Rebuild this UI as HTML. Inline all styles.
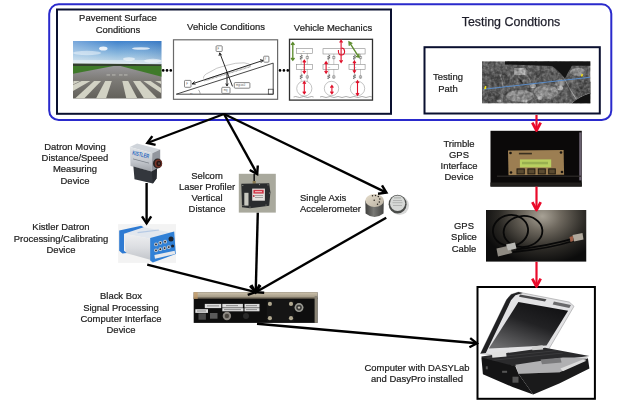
<!DOCTYPE html>
<html><head><meta charset="utf-8">
<style>
html,body{margin:0;padding:0;background:#fff;}
body{width:624px;height:412px;position:relative;overflow:hidden;}
.t{position:absolute;font-family:"Liberation Sans",sans-serif;font-size:9.8px;line-height:11.3px;text-align:center;white-space:nowrap;color:#1c1c1c;width:140px;-webkit-text-stroke:0.22px #222;transform:scaleX(0.965);transform-origin:50% 0;}
svg{position:absolute;left:0;top:0;}
</style></head><body>
<svg width="624" height="412" viewBox="0 0 624 412">
<defs>
  <linearGradient id="sky" x1="0" y1="0" x2="0" y2="1">
    <stop offset="0" stop-color="#3f82cc"/>
    <stop offset="0.55" stop-color="#8cb9de"/>
    <stop offset="1" stop-color="#d6e4ec"/>
  </linearGradient>
  <linearGradient id="runway" x1="0" y1="0" x2="0" y2="1">
    <stop offset="0" stop-color="#98979a"/>
    <stop offset="0.4" stop-color="#7e7c78"/>
    <stop offset="1" stop-color="#62605a"/>
  </linearGradient>
  <linearGradient id="skyH" x1="0" y1="0" x2="1" y2="0">
    <stop offset="0" stop-color="#ffffff" stop-opacity="0.3"/>
    <stop offset="0.5" stop-color="#ffffff" stop-opacity="0"/>
    <stop offset="1" stop-color="#003080" stop-opacity="0.12"/>
  </linearGradient>
  <clipPath id="cpPav"><rect x="73" y="41" width="88.7" height="57.5"/></clipPath>
  <clipPath id="cpMap"><rect x="482" y="61.3" width="108.5" height="42.2"/></clipPath>
  <clipPath id="cpCab"><rect x="486" y="210" width="100.5" height="51.8"/></clipPath>
  <radialGradient id="cabBg" cx="0.56" cy="0.12" r="0.62" gradientTransform="translate(0.56 0.12) scale(1 1.5) translate(-0.56 -0.12)">
    <stop offset="0" stop-color="#a8a296"/>
    <stop offset="0.3" stop-color="#6e685e"/>
    <stop offset="0.7" stop-color="#2a2824"/>
    <stop offset="1" stop-color="#0c0c0c"/>
  </radialGradient>
  <linearGradient id="screen" x1="0.8" y1="0" x2="0.2" y2="1">
    <stop offset="0" stop-color="#101012"/>
    <stop offset="0.45" stop-color="#222224"/>
    <stop offset="1" stop-color="#6a6a6c"/>
  </linearGradient>
  <linearGradient id="alu" x1="0" y1="0" x2="0" y2="1">
    <stop offset="0" stop-color="#e8eaec"/>
    <stop offset="1" stop-color="#c4c8cc"/>
  </linearGradient>
  <linearGradient id="bbTop" x1="0" y1="0" x2="0" y2="1">
    <stop offset="0" stop-color="#cfc4ae"/>
    <stop offset="0.65" stop-color="#a89e8a"/>
    <stop offset="1" stop-color="#3a342c"/>
  </linearGradient>
  <linearGradient id="accBody" x1="0" y1="0" x2="1" y2="0">
    <stop offset="0" stop-color="#3e3e3c"/>
    <stop offset="0.45" stop-color="#7a7a76"/>
    <stop offset="1" stop-color="#444442"/>
  </linearGradient>
  <linearGradient id="accTop" x1="0" y1="0" x2="1" y2="1">
    <stop offset="0" stop-color="#e6ddcc"/>
    <stop offset="1" stop-color="#b8b0a0"/>
  </linearGradient>
  <linearGradient id="alu2" x1="0" y1="0" x2="0" y2="1">
    <stop offset="0" stop-color="#e2e5e8"/>
    <stop offset="0.6" stop-color="#c2c6cc"/>
    <stop offset="1" stop-color="#9ea2a8"/>
  </linearGradient>
  <linearGradient id="alu3" x1="0" y1="0" x2="0" y2="1">
    <stop offset="0" stop-color="#eeeff1"/>
    <stop offset="0.5" stop-color="#dcdee2"/>
    <stop offset="1" stop-color="#c2c5ca"/>
  </linearGradient>
  <filter id="noise" x="0" y="0" width="100%" height="100%">
    <feTurbulence type="fractalNoise" baseFrequency="0.35" numOctaves="2" seed="3"/>
    <feColorMatrix type="matrix" values="0 0 0 0 1  0 0 0 0 1  0 0 0 0 1  1.6 0 0 0 -0.55"/>
  </filter>
  <filter id="noiseD" x="0" y="0" width="100%" height="100%">
    <feTurbulence type="fractalNoise" baseFrequency="0.25" numOctaves="2" seed="9"/>
    <feColorMatrix type="matrix" values="0 0 0 0 0  0 0 0 0 0  0 0 0 0 0  1.6 0 0 0 -0.6"/>
  </filter>
</defs>

<!-- ===== frames ===== -->
<rect x="49.2" y="4.3" width="562.1" height="115.7" rx="9.5" fill="none" stroke="#2a2acc" stroke-width="2"/>
<rect x="57" y="9.5" width="334" height="104.3" fill="none" stroke="#0a1030" stroke-width="2"/>
<rect x="424.5" y="47.2" width="175.3" height="66.3" fill="none" stroke="#0a1030" stroke-width="2"/>
<rect x="477.5" y="287" width="117.4" height="111.8" fill="none" stroke="#000" stroke-width="2"/>

<!-- ===== pavement photo ===== -->
<g clip-path="url(#cpPav)">
  <rect x="73" y="41" width="88.7" height="24" fill="url(#sky)"/>
  <rect x="73" y="41" width="88.7" height="24" fill="url(#skyH)"/>
  <g fill="#fff">
    <ellipse cx="103.3" cy="48.5" rx="4.2" ry="2" opacity="0.85"/>
    <ellipse cx="141" cy="48.5" rx="9" ry="1.3" opacity="0.75"/>
    <ellipse cx="87" cy="53" rx="14" ry="2.2" opacity="0.45"/>
    <ellipse cx="129" cy="59" rx="6" ry="1.8" opacity="0.6"/>
    <ellipse cx="153" cy="60.8" rx="9" ry="2" opacity="0.55"/>
    <rect x="73" y="60" width="88.7" height="4" opacity="0.35"/>
  </g>
  <polygon points="73,63.5 161.7,64.3 161.7,66.3 73,66.3" fill="#34402e"/>
  <rect x="73" y="66" width="88.7" height="33" fill="url(#runway)"/>
  <polygon points="73,66 113.5,66 73,73.8" fill="#3f7a2a"/>
  <polygon points="120.5,66 161.7,66 161.7,76.7" fill="#3f7a2a"/>
  <g fill="#d2d2c4">
    <polygon points="73.5,80.9 80.1,80.9 73,84.5"/>
    <polygon points="81.6,80.9 90.4,80.9 73,91 73,85"/>
    <polygon points="94.1,80.9 101.1,80.9 84.2,98.6 75,98.6"/>
    <polygon points="105.2,80.9 111.8,80.9 106,98.6 96,98.6"/>
    <polygon points="122.3,80.9 128.2,80.9 137.4,98.6 126.3,98.6"/>
    <polygon points="133,80.9 140.3,80.9 157.3,98.6 144,98.6"/>
    <polygon points="143.3,80.9 150.6,80.9 161,88 161,93"/>
    <polygon points="155,80.9 160.2,80.9 161,81.5 161,84"/>
  </g>
  <g fill="#c8c8c0" opacity="0.6">
    <rect x="106.5" y="74.3" width="3.5" height="1.3"/>
    <rect x="112" y="74.3" width="3.5" height="1.3"/>
    <rect x="119" y="74.3" width="3.5" height="1.3"/>
    <rect x="124" y="74.3" width="3.5" height="1.3"/>
  </g>
</g>
<g fill="#000"><circle cx="163.2" cy="70.4" r="1.3"/><circle cx="167" cy="70.4" r="1.3"/><circle cx="170.8" cy="70.4" r="1.3"/></g>
<g fill="#000"><circle cx="280" cy="70.4" r="1.3"/><circle cx="283.9" cy="70.4" r="1.3"/><circle cx="287.8" cy="70.4" r="1.3"/></g>

<!-- ===== vehicle conditions diagram ===== -->
<rect x="173.5" y="39.8" width="104.1" height="59.5" fill="#fff" stroke="#6a6a6a" stroke-width="1.2"/>
<g stroke="#333" stroke-width="0.9" fill="none">
  <polygon points="176.3,94.2 273.2,63.1 273.2,94.2"/>
  <rect x="268.3" y="89.2" width="4.9" height="5" stroke-width="0.7"/>
  <path d="M198.5,89.8 Q200.3,92 200.2,94.2" stroke="#777" stroke-width="0.6"/>
</g>
<g stroke="#a0a0a0" stroke-width="0.6" fill="none">
  <path d="M203.5,78.5 Q203,75 209,72.5 Q216,67.5 226,65.5 Q236,62.5 244,62.8 Q250,63.5 251,66"/>
  <path d="M204,81 L251,66.5 M205,79.5 L250,65.3"/>
  <path d="M208,80.5 l2,-2.2 M212,79.3 l2,-2.2 M216,78 l2,-2.2 M220,76.8 l2,-2.2 M224,75.5 l2,-2.2 M228,74.3 l2,-2.2 M232,73 l2,-2.2 M236,71.8 l2,-2.2 M240,70.5 l2,-2.2 M244,69.3 l2,-2.2 M248,68 l2,-2.2"/>
</g>
<g stroke="#111" stroke-width="0.9" fill="none">
  <line x1="192.4" y1="83.8" x2="262.8" y2="60.5"/>
  <path d="M194.8,81.5 L192,83.9 L195.6,84.2 M260,59.7 L263.2,60.4 L261,62.7"/>
  <line x1="220" y1="53.5" x2="232.5" y2="86.4"/>
  <path d="M219,56 L219.7,52.8 L221.6,55.2"/>
  <line x1="227" y1="72.6" x2="227" y2="85.6"/>
  <path d="M225.8,83.5 L227,86 L228.2,83.5"/>
</g>
<g fill="#fff" stroke="#555" stroke-width="0.7">
  <rect x="216.1" y="45.8" width="6.1" height="5.7" rx="0.8"/>
  <rect x="263.7" y="56.2" width="5.2" height="6" rx="0.8"/>
  <rect x="184.5" y="80.4" width="6.5" height="6.9" rx="0.8"/>
  <rect x="221.8" y="87.3" width="8.2" height="6.1" rx="0.8"/>
  <rect x="234.3" y="82.6" width="15.6" height="5.6" rx="0.8"/>
</g>
<g fill="#555" font-family="Liberation Sans" font-size="2.6">
  <text x="217.6" y="49.8">F</text><text x="265.2" y="60">f</text><text x="186.3" y="84.8">F</text>
  <text x="223.8" y="91.3">mg</text><text x="236" y="86.3">mgcos0</text><text x="190" y="93.6" font-size="2.2">20°</text>
</g>

<!-- ===== vehicle mechanics diagram ===== -->
<rect x="289.5" y="39.3" width="83" height="60.8" fill="#fff" stroke="#303030" stroke-width="1.3"/>
<g fill="#fff" stroke="#8a8a8a" stroke-width="0.6">
  <rect x="296.3" y="48.4" width="16.4" height="4.9"/>
  <rect x="323" y="48.7" width="42.1" height="5.3"/>
  <rect x="296.3" y="64.3" width="16.4" height="5"/>
  <rect x="323" y="64.3" width="15.3" height="5"/>
  <rect x="349" y="64.3" width="16.1" height="5"/>
</g>
<g fill="none" stroke="#9a9a9a" stroke-width="0.6">
  <circle cx="304.3" cy="88.5" r="7.6"/>
  <circle cx="331.5" cy="88.5" r="7.2"/>
  <circle cx="357.5" cy="88.5" r="7.2"/>
</g>
<g stroke="#8a8a8a" stroke-width="0.45" fill="none">
  <path d="M301.2,53.3 v2 M307.3,53.3 v2 M301.2,59.3 v5 M307.3,59.3 v5 M301.2,69.3 v5.4 M307.3,69.3 v5.4 M301.2,78.7 v2 M307.3,78.7 v3"/>
  <path d="M328.8,54 v1.3 M333.8,54 v1.3 M328.8,59.3 v5 M333.8,59.3 v5 M328.8,69.3 v5.4 M333.8,69.3 v5.4"/>
  <path d="M354.4,54 v1.3 M360.5,54 v1.3 M354.4,59.3 v5 M360.5,59.3 v5 M354.4,69.3 v5.4 M360.5,69.3 v5.4"/>
</g>
<g stroke="#4a4a4a" stroke-width="0.7" fill="none">
  <path d="M301.2,55.3 L302.5,55.8 L299.9,56.8 L302.5,57.8 L299.9,58.8 L301.2,59.3 M301.2,74.7 L302.5,75.2 L299.9,76.2 L302.5,77.2 L299.9,78.2 L301.2,78.7 M328.8,55.3 L330.1,55.8 L327.5,56.8 L330.1,57.8 L327.5,58.8 L328.8,59.3 M328.8,74.7 L330.1,75.2 L327.5,76.2 L330.1,77.2 L327.5,78.2 L328.8,78.7 M354.4,55.3 L355.7,55.8 L353.1,56.8 L355.7,57.8 L353.1,58.8 L354.4,59.3 M354.4,74.7 L355.7,75.2 L353.1,76.2 L355.7,77.2 L353.1,78.2 L354.4,78.7 "/>
  <path d="M307.3,55.3 v1.8 M306.0,56.5 h2.6 M306.2,56.5 v2.2 h2.2 v-2.2 M307.3,57.7 v1.6 M307.3,74.7 v1.8 M306.0,75.9 h2.6 M306.2,75.9 v2.2 h2.2 v-2.2 M307.3,77.1 v1.6 M333.8,55.3 v1.8 M332.5,56.5 h2.6 M332.7,56.5 v2.2 h2.2 v-2.2 M333.8,57.7 v1.6 M333.8,74.7 v1.8 M332.5,75.9 h2.6 M332.7,75.9 v2.2 h2.2 v-2.2 M333.8,77.1 v1.6 M360.5,55.3 v1.8 M359.2,56.5 h2.6 M359.4,56.5 v2.2 h2.2 v-2.2 M360.5,57.7 v1.6 M360.5,74.7 v1.8 M359.2,75.9 h2.6 M359.4,75.9 v2.2 h2.2 v-2.2 M360.5,77.1 v1.6 " stroke="#7a7a7a" stroke-width="0.6"/>
</g>
<path d="M293.6,97 q2,-1 4,0 t4,0 t4,0 t4,0 t4,0 M320,97 q2,-1 4,0 t4,0 t4,0 t4,0 t4,0 t4,0 t4,0 t4,0 t4,0 t4,0 t4,0 t4,0 t4,0" stroke="#777" stroke-width="0.6" fill="none"/>
<g stroke="#5a8a2a" stroke-width="1.3" fill="none">
  <path d="M292.8,43.1 V59.7 M291.1,44.800000000000004 L292.8,42.6 L294.5,44.800000000000004 M291.1,58.0 L292.8,60.2 L294.5,58.0"/>
  <line x1="349.6" y1="42.6" x2="358.4" y2="56.3"/>
  <path d="M349.3,45.8 L349,41.8 L352.3,43.6 M355.8,56.3 L359,57.1 L358.8,53.8"/>
</g>
<g stroke="#e0102a" stroke-width="1.1" fill="none">
  <path d="M304.3,60.7 V72.7 M302.8,62.400000000000006 L304.3,60.2 L305.8,62.400000000000006 M302.8,71.0 L304.3,73.2 L305.8,71.0 M304.3,82.1 V93.3 M302.8,83.8 L304.3,81.6 L305.8,83.8 M302.8,91.6 L304.3,93.8 L305.8,91.6 M326.1,62.2 V72.7 M324.6,63.900000000000006 L326.1,61.7 L327.6,63.900000000000006 M324.6,71.0 L326.1,73.2 L327.6,71.0 M331.9,85.9 V93.3 M330.4,87.60000000000001 L331.9,85.4 L333.4,87.60000000000001 M330.4,91.6 L331.9,93.8 L333.4,91.6 M354.4,61.5 V71.9 M352.9,63.2 L354.4,61 L355.9,63.2 M352.9,70.2 L354.4,72.4 L355.9,70.2 M357.5,81.3 V94.8 M356.0,83.0 L357.5,80.8 L359.0,83.0 M356.0,93.1 L357.5,95.3 L359.0,93.1 M341.1,40.8 V62.0 M339.6,42.5 L341.1,40.3 L342.6,42.5 M339.6,60.3 L341.1,62.5 L342.6,60.3"/>
  <path d="M338.4,50 Q338,55 341.4,55 Q344.6,55 344.6,51.5 Q344.4,48.2 341.6,48"/>
</g>
<g fill="#777" font-family="Liberation Sans" font-size="2.4"><text x="302.5" y="51.8">m</text><text x="303" y="67.8">m</text><text x="328" y="67.8">m</text><text x="354" y="67.8">m</text></g>

<!-- ===== map ===== -->
<g clip-path="url(#cpMap)">
  <rect x="482" y="61.3" width="108.5" height="42.2" fill="#5a5a5a"/>
  <g fill="#4c4c4c">
    <ellipse cx="498" cy="79" rx="12" ry="8"/>
    <ellipse cx="585" cy="88" rx="9" ry="8"/>
    <ellipse cx="492" cy="97" rx="9" ry="6"/>
    <ellipse cx="540" cy="74" rx="6" ry="4"/>
  </g>
  <g fill="#8e8e8e">
    <ellipse cx="520" cy="96" rx="14" ry="6"/>
    <ellipse cx="546" cy="92" rx="12" ry="7"/>
    <ellipse cx="560" cy="83" rx="5" ry="4"/>
    <ellipse cx="578" cy="72" rx="8" ry="4"/>
  </g>
  <g fill="#b4b4b4">
    <rect x="514.2" y="68" width="11.4" height="7" />
    <ellipse cx="560" cy="88" rx="3" ry="2.5"/>
    <ellipse cx="499" cy="101" rx="2.5" ry="1.6"/>
    <ellipse cx="525" cy="101" rx="2.5" ry="1.6"/>
    <ellipse cx="540" cy="98" rx="2.5" ry="2"/>
    <ellipse cx="533" cy="86" rx="3" ry="2"/>
  </g>
  <path d="M517,76 Q520,80 523,84" stroke="#303030" stroke-width="1.6" fill="none"/>
  <path d="M564.8,79.5 Q570,90 576.2,99 M571.6,103.5 Q580,96 590.5,93.2" stroke="#b8b8b8" stroke-width="0.7" fill="none"/>
  <path d="M500,75 Q505,85 502,103 M524,67 Q526,75 531,82" stroke="#909090" stroke-width="0.8" fill="none"/>
  <rect x="482" y="61.3" width="108.5" height="42.2" filter="url(#noise)" opacity="0.35"/>
  <rect x="482" y="61.3" width="108.5" height="42.2" filter="url(#noiseD)" opacity="0.5"/>
  <path d="M505,61.3 L590.5,61.3 L590.5,65.8 L572,65.8 Q568,72 565,78.4 Q558,70 552,66 L505,64.5 Z" fill="#141414"/>
  <path d="M571.6,103.5 Q580,96 590.5,93.2 L590.5,103.5 Z" fill="#121212"/>
  <line x1="483.4" y1="89.3" x2="590" y2="77.2" stroke="#5a8cc8" stroke-width="1.15"/>
  <polygon points="484,89.3 485.2,85.8 486.4,86.2 486.2,89" fill="#f2e21a"/>
  <polygon points="580.7,76.6 581.6,73.8 583,74.3 582.6,76.4" fill="#f2e21a"/>
</g>

<!-- ===== datron sensor ===== -->
<polygon points="129.9,147.1 137.1,143.5 160.2,149.5 152.3,153.2" fill="#cfd4da"/>
<polygon points="129.9,147.1 152.3,153.2 151.7,171.4 130.5,165.9" fill="url(#alu2)"/>
<polygon points="152.3,153.2 160.2,149.5 160.2,167 151.7,171.4" fill="#92969e"/>
<polygon points="133.4,166.6 151.7,171.4 157,168.5 156.5,178.5 152.9,183.5 134.5,179.3" fill="#33373d"/>
<polygon points="151.7,171.4 157,168.5 156.5,178.5 152.9,183.5" fill="#282b30"/>
<text x="0" y="0" font-family="Liberation Sans" font-size="6" font-weight="bold" fill="#2a68c0" transform="translate(132 154.6) rotate(13) scale(0.66 1)">KISTLER</text>
<polygon points="133,158.5 149,162.8 149,163.5 133,159.2" fill="#7a8088"/>
<ellipse cx="157.6" cy="163.5" rx="4.6" ry="5" fill="#2a2626"/>
<ellipse cx="158.4" cy="163.5" rx="3.6" ry="4" fill="#7a3428"/>
<ellipse cx="158.8" cy="163.5" rx="2.4" ry="2.8" fill="#2a1614"/>
<ellipse cx="159" cy="163.5" rx="1" ry="1.2" fill="#5a4440"/>

<!-- ===== selcom ===== -->
<rect x="238.8" y="173.8" width="37" height="38.8" fill="#a9a99d"/>
<rect x="253.4" y="174" width="1.6" height="8" fill="#1a1a1a"/>
<rect x="252.6" y="181" width="3.2" height="2.8" fill="#8a7a50"/>
<polygon points="241.3,183.8 269.2,183.2 270.4,192.2 269.2,205.8 250,208.3 242,207.2" fill="#2a2c2e"/>
<g fill="#9a9a90"><circle cx="242.8" cy="185.5" r="0.6"/><circle cx="259.5" cy="184.6" r="0.6"/><circle cx="268" cy="184.8" r="0.6"/><circle cx="269.5" cy="193" r="0.6"/><circle cx="266" cy="205" r="0.6"/><circle cx="250" cy="207" r="0.6"/><circle cx="243" cy="205.5" r="0.6"/></g>
<rect x="252.2" y="188.6" width="12.7" height="12.1" fill="#e6e2de"/>
<rect x="253.4" y="189.8" width="10.3" height="3.8" fill="#d03848"/>
<rect x="255" y="191.2" width="7" height="1" fill="#f0d0d4"/>
<g fill="#777"><rect x="255" y="195" width="8" height="0.6"/><rect x="255" y="197" width="8" height="0.6"/><circle cx="253.8" cy="196" r="0.9" fill="#c03040"/></g>
<rect x="244.3" y="192.8" width="4.2" height="12.8" fill="#c8c8c0"/>

<!-- ===== accelerometer ===== -->
<path d="M365.3,200.5 L365.6,213.5 Q374.5,220.5 383.5,213.5 L383.8,200.5 Z" fill="url(#accBody)"/>
<ellipse cx="374.6" cy="200.5" rx="9.3" ry="6.4" fill="url(#accTop)"/>
<g fill="#2a2520"><circle cx="372.5" cy="195.8" r="0.75"/><circle cx="375.5" cy="195.6" r="0.75"/><circle cx="378.3" cy="196.6" r="0.75"/><circle cx="379.8" cy="199" r="0.75"/><circle cx="379.3" cy="202" r="0.75"/><circle cx="377.5" cy="204.2" r="0.75"/><circle cx="374.2" cy="200.3" r="0.75"/></g>
<ellipse cx="399.5" cy="205.5" rx="9.5" ry="9.6" fill="#bcbebc" opacity="0.6"/>
<ellipse cx="397.6" cy="204.2" rx="9" ry="9.4" fill="#4a4c4a"/>
<ellipse cx="397.6" cy="203.2" rx="7.6" ry="7.8" fill="#d6d8d6"/>
<g fill="#9a9c9a"><rect x="393" y="200" width="9" height="0.6"/><rect x="392.5" y="202.5" width="10" height="0.6"/><rect x="393" y="205" width="9" height="0.6"/><rect x="394" y="197.5" width="7" height="0.8"/></g>

<!-- ===== kistler processor ===== -->
<rect x="118.1" y="224.1" width="57.9" height="38.8" fill="#f3f3f3"/>
<polygon points="124.0,233.7 143.7,227.3 172.6,232.7 152.3,239.1" fill="#e2e7ee"/>
<polygon points="137.3,232.1 158.7,229.5 159.2,230.5 137.9,233.2" fill="#9ab8e0" opacity="0.6"/>
<polygon points="124.0,233.7 152.3,239.1 152.8,260.4 125.6,252.9" fill="url(#alu3)"/>
<polygon points="119.2,230.5 141.1,225.7 143.7,227.3 124.0,233.7 124.0,250.8 126.7,252.9 122.4,253.5 119.2,250.8" fill="#2e7ad2"/>
<polygon points="150.2,238.0 174.2,231.6 175.8,254.0 152.8,262.6 150.2,260.4" fill="#3080d6"/>
<g fill="#c4c8d0"><circle cx="156.0" cy="244.4" r="1.9"/><circle cx="160.3" cy="242.8" r="1.9"/><circle cx="165.1" cy="241.7" r="1.9"/><circle cx="156.0" cy="250.3" r="1.9"/><circle cx="160.3" cy="249.2" r="1.9"/><circle cx="164.6" cy="248.1" r="1.9"/><circle cx="168.8" cy="247.1" r="1.9"/></g>
<g fill="#1e2430"><circle cx="156.0" cy="244.4" r="0.9"/><circle cx="160.3" cy="242.8" r="0.9"/><circle cx="165.1" cy="241.7" r="0.9"/><circle cx="156.0" cy="250.3" r="0.9"/><circle cx="160.3" cy="249.2" r="0.9"/><circle cx="164.6" cy="248.1" r="0.9"/><circle cx="168.8" cy="247.1" r="0.9"/><circle cx="171.0" cy="239.1" r="2.5"/><circle cx="172.6" cy="246.0" r="1.6"/></g>
<polygon points="154.4,255.1 174.7,250.8 175.2,254.0 155.0,258.8" fill="#e6e8ec"/>

<!-- ===== black box ===== -->
<rect x="193.7" y="292.2" width="123.8" height="30.7" fill="#0e0e0e"/>
<rect x="193.7" y="292.2" width="123.8" height="6.8" fill="url(#bbTop)"/>
<rect x="193.7" y="292.2" width="4" height="6.8" fill="#c49a64" opacity="0.7"/>
<rect x="314.6" y="296" width="2.9" height="26.9" fill="#8a8476"/>
<g fill="#dcdcdc">
  <rect x="204.8" y="303.9" width="16.4" height="4.2"/>
  <rect x="222.3" y="303.9" width="20.6" height="3.7"/>
  <rect x="222.3" y="308.1" width="21.1" height="3.2"/>
  <rect x="244.5" y="303.9" width="15" height="3.7"/>
  <rect x="244.5" y="308.1" width="15" height="3.2"/>
  <rect x="195.3" y="309.2" width="12.7" height="3.7"/>
</g>
<g fill="#777"><rect x="207" y="305.5" width="12" height="0.8"/><rect x="226" y="305.3" width="12" height="0.8"/><rect x="224" y="309.3" width="17" height="0.8"/><rect x="246" y="305.3" width="11" height="0.8"/><rect x="246" y="309.3" width="11" height="0.8"/><rect x="197" y="310.6" width="9" height="0.8"/></g>
<rect x="198.5" y="313.4" width="7.4" height="6.3" fill="#4a4a4a"/>
<rect x="210" y="313" width="7.5" height="5.7" fill="#5a5a5a"/>
<circle cx="226.9" cy="316" r="4.2" fill="#8a8680"/>
<circle cx="226.9" cy="316" r="2.2" fill="#4a4640"/>
<circle cx="246" cy="316" r="3" fill="#2a2a2a"/>
<rect x="266.7" y="299.6" width="27.5" height="22.3" fill="#151515"/>
<g fill="#b0a890"><circle cx="269.9" cy="303.9" r="2.1"/><circle cx="291" cy="303.9" r="2.1"/><circle cx="269.9" cy="318.2" r="2.1"/><circle cx="291" cy="318.2" r="2.1"/></g>
<circle cx="299" cy="307.6" r="4.5" fill="#9a9a92"/>
<circle cx="299" cy="307.6" r="2.8" fill="#3a3a38"/>
<circle cx="299" cy="307.6" r="1.2" fill="#c0bcb0"/>

<!-- ===== trimble ===== -->
<rect x="490.5" y="130.8" width="91.3" height="55.8" fill="#0b0909"/>
<rect x="579.2" y="132.4" width="2.4" height="48" fill="#6a6270"/>
<polygon points="508,150.5 563.6,150 564.1,174.8 508.5,175.3" fill="#9c7e52"/>
<g fill="#1a1510"><circle cx="510.5" cy="153" r="1.3"/><circle cx="561" cy="152.5" r="1.3"/><circle cx="511" cy="172.5" r="1.3"/><circle cx="562" cy="172" r="1.3"/></g>
<rect x="519.9" y="159.4" width="31.3" height="8" fill="#b8d060"/>
<g fill="#98b050"><rect x="522" y="161.8" width="26" height="2.5"/></g>
<rect x="518.9" y="152.8" width="13" height="1.6" fill="#3a3020"/>
<g fill="#5a4a30" stroke="#221c12" stroke-width="1"><rect x="517" y="168.9" width="7.3" height="5"/><rect x="527.9" y="168.9" width="7" height="5"/><rect x="538.3" y="168.9" width="7" height="5"/><rect x="548.7" y="168.9" width="6.6" height="5"/></g>
<rect x="497" y="175.6" width="84" height="1.2" fill="#2e2c2a"/>
<rect x="490.5" y="182.5" width="91.3" height="4" fill="#201e1c"/>

<!-- ===== cable ===== -->
<g clip-path="url(#cpCab)">
  <rect x="486" y="210" width="100.5" height="51.8" fill="url(#cabBg)"/>
  <g stroke="#080808" stroke-width="1.8" fill="none">
    <ellipse cx="510.5" cy="230.5" rx="17.6" ry="15.5" transform="rotate(-8 510.5 230.5)"/>
    <ellipse cx="523" cy="231.5" rx="19.4" ry="15.5" transform="rotate(-5 523 231.5)"/>
    <path d="M516,249.5 Q548,246 577,237.6"/>
    <path d="M513,252 Q548,249 575,240.5"/>
  </g>
  <polygon points="496.5,248.5 510,245.5 512,253 498,256.5" fill="#8e8a82"/>
  <polygon points="506,244.5 515,242.5 516.5,248.5 508,250.5" fill="#b8b8b4"/>
  <polygon points="572.5,235 582.5,233 583.5,239.5 574,241.5" fill="#b0a89c"/>
  <polygon points="569.5,237 573,236 573.5,241 570.5,242" fill="#a06048"/>
</g>

<!-- ===== computer ===== -->
<polygon points="480.5,353.6 506.5,299.8 511.0,294.4 518.4,292.1 569.3,302.1 574.0,306.3 548.6,349.5 491.8,354.8" fill="#e2e2e4" stroke="#9a9a9c" stroke-width="0.6"/>
<polygon points="480.5,353.6 506.5,299.8 511.0,294.4 518.4,292.1 522.8,292.9 515.4,295.3 511.0,300.3 485.8,353.0" fill="#202022"/>
<polygon points="519.9,294.4 546.5,299.2 545.0,301.5 519.0,296.8" fill="#4a4a4c"/>
<polygon points="553.9,301.5 571.0,305.1 569.3,308.0 552.7,304.5" fill="#6a6a6c"/>
<polygon points="518.4,302.1 568.1,310.7 546.5,345.6 488.8,348.6" fill="url(#screen)"/>
<polygon points="481.4,356.6 545.0,347.7 589.4,356.0 562.8,359.5 515.4,366.3 482.9,361.3" fill="#2a2a2c"/>
<g stroke="#4a4a4c" stroke-width="0.5"><path d="M487.3,358.0 L556.8,350.6 M491.8,360.4 L562.8,353.0"/></g>
<polygon points="491.8,352.4 506.0,350.9 506.5,356.6 492.3,357.7" fill="#e0e0e0"/>
<polygon points="531.7,346.5 542.6,345.3 543.2,349.5 532.3,350.3" fill="#d0d0d0"/>
<polygon points="515.4,364.8 562.8,357.4 587.9,357.4 579.0,364.8 559.8,372.2 518.4,373.7" fill="#b0b0b2"/>
<polygon points="540.6,359.5 560.4,357.7 561.6,362.5 542.0,364.2" fill="#7a7a7c"/>
<polygon points="481.4,357.4 515.4,366.3 518.4,373.7 533.2,394.4 512.5,387.0 482.9,374.3" fill="#141415"/>
<polygon points="518.4,373.7 559.8,372.2 587.9,358.3 589.4,368.4 559.8,383.2 533.2,394.4" fill="#1a1a1b"/>
<polygon points="560.4,368.4 582.9,359.5 586.4,360.7 562.8,371.3" fill="#dcdcdc"/>
<g fill="#555"><rect x="485.8" y="366.3" width="2" height="3"/><rect x="502.1" y="370.8" width="5" height="2"/><rect x="512.5" y="376.7" width="6" height="6"/></g>

<!-- ===== black arrows ===== -->
<g stroke="#000" stroke-width="2.4" fill="none" stroke-linecap="butt" stroke-linejoin="miter">
  <line x1="224" y1="114" x2="147.3" y2="143.0"/>
  <path d="M152.3,136.1 L147.3,143 L155.6,144.8"/>
  <line x1="224" y1="114" x2="257.2" y2="174.0"/>
  <path d="M249.7,170.0 L257.2,174 L257.8,165.5"/>
  <line x1="224" y1="114" x2="386.4" y2="192.6"/>
  <path d="M378.0,193.7 L386.4,192.6 L382.0,185.3"/>
  <line x1="146.6" y1="183" x2="146.6" y2="223.4"/>
  <path d="M142.0,216.3 L146.6,223.4 L151.2,216.3"/>
  <line x1="147.2" y1="264.6" x2="255.7" y2="292.2"/>
  <path d="M247.7,294.9 L255.7,292.2 L249.9,286.0"/>
  <line x1="257.8" y1="212.8" x2="255.7" y2="292.2"/>
  <path d="M251.3,285.0 L255.7,292.2 L260.5,285.2"/>
  <line x1="386.2" y1="217.7" x2="255.7" y2="292.2"/>
  <path d="M259.6,284.6 L255.7,292.2 L264.2,292.7"/>
  <line x1="257" y1="323.7" x2="476.9" y2="343.3"/>
  <path d="M469.4,347.3 L476.9,343.3 L470.2,338.1"/>
</g>
<!-- ===== red arrows ===== -->
<g stroke="#ea0a2a" stroke-width="2.2" fill="none" stroke-linejoin="round">
  <line x1="536.5" y1="115" x2="536.5" y2="129.7"/>
  <path stroke-width="2.7" d="M532.3,122.6 L536.5,130.5 L540.7,122.6"/>
  <line x1="536.5" y1="186.6" x2="536.5" y2="209.2"/>
  <path stroke-width="2.7" d="M532.3,202.1 L536.5,210 L540.7,202.1"/>
  <line x1="536.5" y1="261.8" x2="536.5" y2="285.8"/>
  <path stroke-width="2.7" d="M532.3,278.7 L536.5,286.6 L540.7,278.7"/>
</g>
</svg>

<div class="t" style="left:47.60px;top:12.40px;line-height:11.6px;">Pavement Surface<br>Conditions</div>
<div class="t" style="left:156.10px;top:21.45px;line-height:11.3px;">Vehicle Conditions</div>
<div class="t" style="left:263.00px;top:22.25px;line-height:11.3px;">Vehicle Mechanics</div>
<div class="t" style="left:377.50px;top:71.00px;line-height:11.6px;">Testing<br>Path</div>
<div class="t" style="left:5.20px;top:140.87px;line-height:11.27px;">Datron Moving<br>Distance/Speed<br>Measuring<br>Device</div>
<div class="t" style="left:-8.80px;top:221.48px;line-height:11.05px;">Kistler Datron<br>Processing/Calibrating<br>Device</div>
<div class="t" style="left:137.10px;top:169.67px;line-height:11.27px;">Selcom<br>Laser Profiler<br>Vertical<br>Distance</div>
<div class="t" style="left:300.30px;top:193.35px;line-height:10.9px;text-align:left;transform-origin:0 0;">Single Axis<br>Accelerometer</div>
<div class="t" style="left:50.50px;top:290.44px;line-height:11.33px;">Black Box<br>Signal Processing<br>Computer Interface<br>Device</div>
<div class="t" style="left:388.90px;top:137.82px;line-height:11.17px;">Trimble<br>GPS<br>Interface<br>Device</div>
<div class="t" style="left:394.20px;top:219.90px;line-height:11.4px;">GPS<br>Splice<br>Cable</div>
<div class="t" style="left:346.90px;top:361.85px;line-height:11.5px;">Computer with DASYLab<br>and DasyPro installed</div>
<div class="t" style="left:440.50px;top:15.2px;font-size:12.6px;line-height:14px;color:#1e1e2a;transform:scaleX(0.985);-webkit-text-stroke:0.25px #1e1e2a;">Testing Condtions</div>
</body></html>
